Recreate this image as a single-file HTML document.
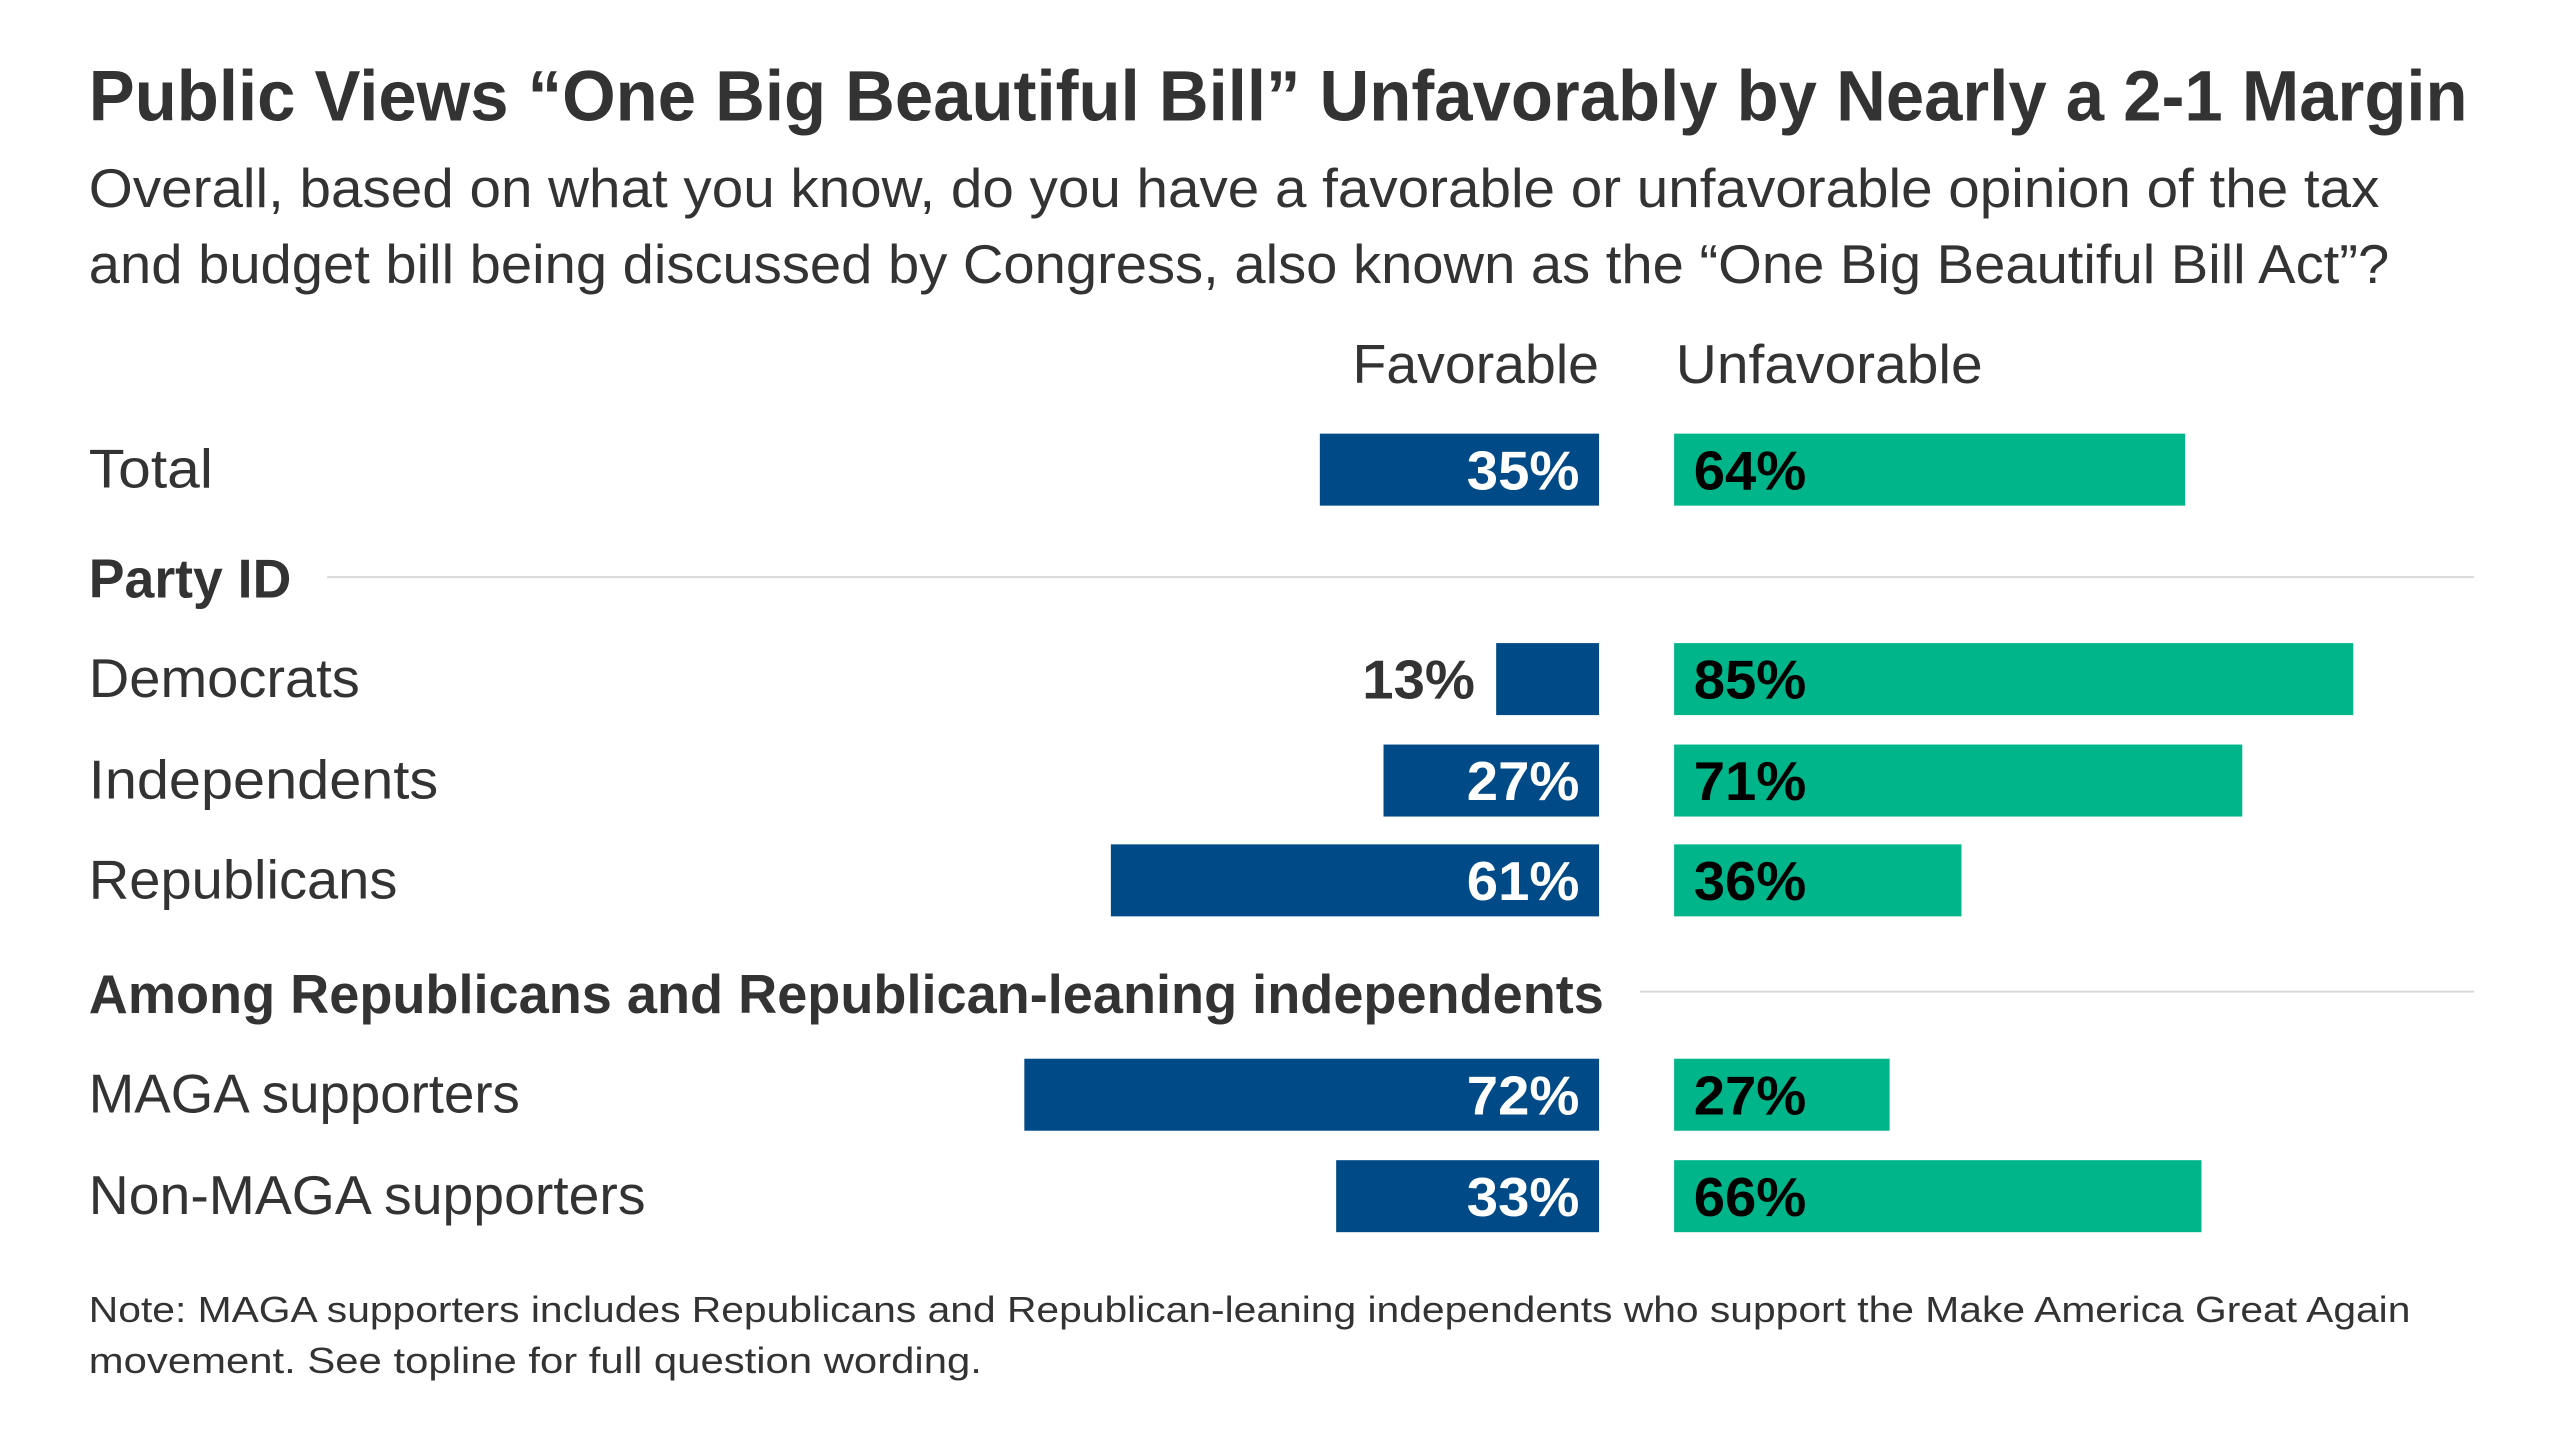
<!DOCTYPE html>
<html><head><meta charset="utf-8">
<style>
html,body{margin:0;padding:0;background:#fff;}
svg{display:block;}
text{font-family:"Liberation Sans",sans-serif;fill:#333;}
.b{font-weight:bold;}
</style></head>
<body>
<svg width="2560" height="1440" viewBox="-0.4 0 1568 880" preserveAspectRatio="none" xmlns="http://www.w3.org/2000/svg">
<rect x="-10" y="-10" width="1600" height="900" fill="#fff"/>
<text class="b" x="54" y="73.5" font-size="43.6" textLength="1457" lengthAdjust="spacingAndGlyphs">Public Views “One Big Beautiful Bill” Unfavorably by Nearly a 2-1 Margin</text>
<text x="54" y="126.5" font-size="33.5" textLength="1403" lengthAdjust="spacingAndGlyphs">Overall, based on what you know, do you have a favorable or unfavorable opinion of the tax</text>
<text x="54" y="173" font-size="33.5" textLength="1409" lengthAdjust="spacingAndGlyphs">and budget bill being discussed by Congress, also known as the “One Big Beautiful Bill Act”?</text>

<text x="828" y="234" font-size="33.5" textLength="151" lengthAdjust="spacingAndGlyphs">Favorable</text>
<text x="1026" y="234" font-size="33.5" textLength="188" lengthAdjust="spacingAndGlyphs">Unfavorable</text>

<g font-size="33.5">
<text x="54" y="298" textLength="76" lengthAdjust="spacingAndGlyphs">Total</text>
<text class="b" x="54" y="365" textLength="124" lengthAdjust="spacingAndGlyphs">Party ID</text>
<text x="54" y="426" textLength="166" lengthAdjust="spacingAndGlyphs">Democrats</text>
<text x="54" y="488" textLength="214" lengthAdjust="spacingAndGlyphs">Independents</text>
<text x="54" y="549" textLength="189" lengthAdjust="spacingAndGlyphs">Republicans</text>
<text class="b" x="54" y="619" textLength="928" lengthAdjust="spacingAndGlyphs">Among Republicans and Republican-leaning independents</text>
<text x="54" y="680" textLength="264" lengthAdjust="spacingAndGlyphs">MAGA supporters</text>
<text x="54" y="742" textLength="341" lengthAdjust="spacingAndGlyphs">Non-MAGA supporters</text>
</g>

<line x1="200" y1="352.7" x2="1515" y2="352.7" stroke="#d9d9d9" stroke-width="1.2"/>
<line x1="1004" y1="606" x2="1515" y2="606" stroke="#d9d9d9" stroke-width="1.2"/>

<g fill="#004a87">
<rect x="808" y="265" width="171" height="44"/>
<rect x="916" y="393" width="63" height="44"/>
<rect x="847" y="455" width="132" height="44"/>
<rect x="680" y="516" width="299" height="44"/>
<rect x="627" y="647" width="352" height="44"/>
<rect x="818" y="709" width="161" height="44"/>
</g>
<g fill="#00b589">
<rect x="1025" y="265" width="313" height="44"/>
<rect x="1025" y="393" width="416" height="44"/>
<rect x="1025" y="455" width="348" height="44"/>
<rect x="1025" y="516" width="176" height="44"/>
<rect x="1025" y="647" width="132" height="44"/>
<rect x="1025" y="709" width="323" height="44"/>
</g>

<g font-size="33.5" class="b">
<text x="898" y="299" style="fill:#fff" textLength="69" lengthAdjust="spacingAndGlyphs">35%</text>
<text x="834" y="427" textLength="69" lengthAdjust="spacingAndGlyphs">13%</text>
<text x="898" y="489" style="fill:#fff" textLength="69" lengthAdjust="spacingAndGlyphs">27%</text>
<text x="898" y="550" style="fill:#fff" textLength="69" lengthAdjust="spacingAndGlyphs">61%</text>
<text x="898" y="681" style="fill:#fff" textLength="69" lengthAdjust="spacingAndGlyphs">72%</text>
<text x="898" y="743" style="fill:#fff" textLength="69" lengthAdjust="spacingAndGlyphs">33%</text>

<text x="1037" y="299" style="fill:#000" textLength="69" lengthAdjust="spacingAndGlyphs">64%</text>
<text x="1037" y="427" style="fill:#000" textLength="69" lengthAdjust="spacingAndGlyphs">85%</text>
<text x="1037" y="489" style="fill:#000" textLength="69" lengthAdjust="spacingAndGlyphs">71%</text>
<text x="1037" y="550" style="fill:#000" textLength="69" lengthAdjust="spacingAndGlyphs">36%</text>
<text x="1037" y="681" style="fill:#000" textLength="69" lengthAdjust="spacingAndGlyphs">27%</text>
<text x="1037" y="743" style="fill:#000" textLength="69" lengthAdjust="spacingAndGlyphs">66%</text>
</g>

<text x="54" y="808" font-size="22" textLength="1422" lengthAdjust="spacingAndGlyphs">Note: MAGA supporters includes Republicans and Republican-leaning independents who support the Make America Great Again</text>
<text x="54" y="839" font-size="22" textLength="547" lengthAdjust="spacingAndGlyphs">movement. See topline for full question wording.</text>
</svg>
</body></html>
